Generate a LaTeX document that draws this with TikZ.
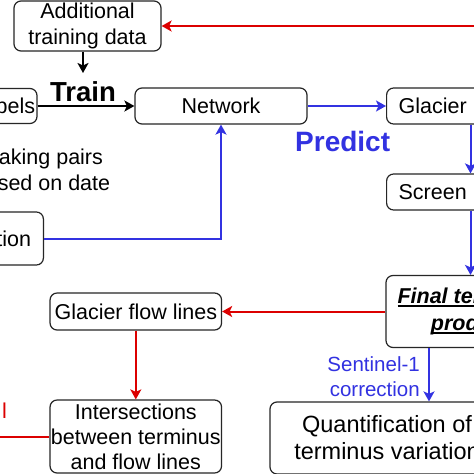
\documentclass[tikz,border=0pt]{standalone}
\usepackage{fontspec}
\setmainfont{Liberation Sans}
\usetikzlibrary{arrows.meta}
\definecolor{myred}{RGB}{220,0,0}
\definecolor{myblue}{RGB}{50,50,225}
\newcommand{\fsN}{\fontsize{21.5}{26}\selectfont}
\newcommand{\ulb}[1]{\setbox0\hbox{#1}\leavevmode\rlap{\vrule height -1.4pt depth 3.3pt width \wd0}\box0}
\begin{document}
\begin{tikzpicture}[x=1pt,y=-1pt,
 box/.style={draw=black!85, line width=1.2pt, rounded corners=7pt, fill=white, inner sep=0pt, align=center, font=\fsN},
 arr/.style={line width=2pt, -{Stealth[length=10pt,width=11pt,inset=2.5pt]}},
]
\useasboundingbox (0,0) rectangle (474,474);
\fill[white] (0,0) rectangle (474,474);
\begin{scope}
\clip (0,0) rectangle (474,474);
% boxes
\node[box, minimum width=147pt, minimum height=50pt] (add) at (87.5,26) {Additional\\training data};
\node[box, minimum width=67pt, minimum height=35pt] (lab) at (3.5,106) {Labels};
\node[box, minimum width=172pt, minimum height=36pt] (net) at (221,106) {Network};
\node[box, anchor=west, text width=156pt, align=left, inner xsep=12pt, minimum height=36pt] (gla) at (386,106) {Glacier};
\node[box, anchor=west, text width=156pt, align=left, inner xsep=12pt, minimum height=36pt] (scr) at (386,192) {Screen};
\node[box, minimum width=170pt, minimum height=72pt, font=\fontsize{21.5}{27}\selectfont\bfseries\itshape] (fin) at (471,311.5) {\ulb{Final terminus}\\\ulb{product}};
\node[box, anchor=east, text width=120pt, align=right, inner xsep=12.4pt, minimum height=53pt] (tion) at (44,238.5) {tion};
\node[box, minimum width=171.5pt, minimum height=37pt] (flow) at (135.8,311.5) {Glacier flow lines};
\node[box, minimum width=171.5pt, minimum height=73pt, font=\fontsize{21.5}{25}\selectfont] (inter) at (135.8,436.5) {Intersections\\between terminus\\and flow lines};
\node[box, minimum width=234pt, minimum height=72pt, font=\fontsize{23.5}{27}\selectfont] (quant) at (387,438) {Quantification of\\terminus variation};
% texts
\node[font=\fsN, align=center, inner sep=0pt] (mk) at (42,170) {Making pairs\\based on date};
\node[font=\fsN, text=myred, inner sep=0pt, anchor=base west] (ll) at (1.8,418) {l};
\node[font=\fontsize{20.5}{25}\selectfont, text=myblue, align=right, anchor=east, inner sep=0pt] (sen) at (420,377) {Sentinel-1\\correction};
\node[font=\fontsize{27.5}{30}\selectfont\bfseries, inner sep=0pt, anchor=base west] (train) at (50,101) {Train};
\node[font=\fontsize{28}{30}\selectfont\bfseries, text=myblue, inner sep=0pt, anchor=base west] (pred) at (295,151.7) {Predict};
% coordinates
\coordinate (cR) at (470.5,0);
\coordinate (cS) at (429,0);
\coordinate (a1) at (83,73);
\coordinate (rtop) at (485,26);
\coordinate (rleft) at (-10,436.5);
% connectors
\draw[arr, myred] (rtop) -- (add.east);
\draw[arr, black] (add.south -| a1) -- (a1);
\draw[arr, black] (lab.east) -- (net.west);
\draw[arr, myblue] (net.east) -- (gla.west);
\draw[arr, myblue] (gla.south -| cR) -- (scr.north -| cR);
\draw[arr, myblue] (scr.south -| cR) -- (fin.north -| cR);
\draw[arr, myblue] (fin.south -| cS) -- (quant.north -| cS);
\draw[arr, myred] (fin.west) -- (flow.east);
\draw[arr, myred] (flow.south) -- (inter.north);
\draw[line width=2pt, myred] (rleft) -- (inter.west);
\draw[arr, myblue] (tion.east) -| (net.south);
\end{scope}
\end{tikzpicture}
\end{document}
